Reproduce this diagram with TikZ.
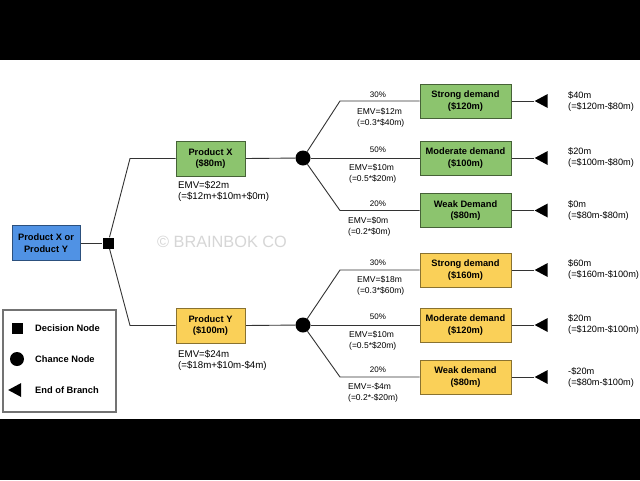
\documentclass[tikz,border=0pt]{standalone}
\usepackage{fontspec}
\setmainfont{Liberation Sans}
\usetikzlibrary{shapes.geometric}
\definecolor{rootblue}{RGB}{80,146,228}
\definecolor{xgreen}{RGB}{140,196,110}
\definecolor{yyellow}{RGB}{250,208,88}
\pgfdeclarelayer{bg}
\pgfdeclarelayer{lines}
\pgfsetlayers{bg,lines,main}
\begin{document}
\begin{tikzpicture}[x=1pt,y=-1pt,
  boxbase/.style={line width=0.9pt, inner sep=1pt, align=center,
    font=\fontsize{9.3}{11.5}\selectfont\bfseries},
  rootbox/.style={boxbase, draw=rootblue!55!black, fill=rootblue, minimum width=68pt, minimum height=35pt},
  pxbox/.style={boxbase, draw=xgreen!50!black, fill=xgreen, minimum width=69pt, minimum height=35pt},
  pybox/.style={boxbase, draw=yyellow!55!black, fill=yyellow, minimum width=69pt, minimum height=35pt},
  dxbox/.style={boxbase, draw=xgreen!50!black, fill=xgreen, minimum width=91pt, minimum height=34pt},
  dybox/.style={boxbase, draw=yyellow!55!black, fill=yyellow, minimum width=91pt, minimum height=34pt},
  decnode/.style={rectangle, fill=black, minimum size=11pt, inner sep=0pt},
  chancenode/.style={circle, fill=black, minimum size=15pt, inner sep=0pt},
  endnode/.style={isosceles triangle, isosceles triangle stretches, shape border rotate=180,
    fill=black, minimum width=14pt, minimum height=13pt, inner sep=0pt},
  conn/.style={draw=black!80, line width=0.9pt},
  ann/.style={anchor=west, align=left, inner sep=0pt, font=\fontsize{8.5}{11}\selectfont},
  pann/.style={anchor=west, align=left, inner sep=0pt, font=\fontsize{9.7}{11.5}\selectfont},
  vann/.style={anchor=west, align=left, inner sep=0pt, font=\fontsize{9.2}{11}\selectfont},
  pct/.style={inner sep=0pt, font=\fontsize{8}{10}\selectfont},
  legtext/.style={anchor=west, inner sep=0pt, font=\fontsize{9.3}{11}\selectfont\bfseries}
]
\useasboundingbox (0,0) rectangle (640,480);
\begin{pgfonlayer}{bg}
  \fill[black] (0,0) rectangle (640,480);
  \fill[white] (0,60) rectangle (640,419);
\end{pgfonlayer}

% watermark
\node[text=black!16, font=\fontsize{16.3}{18}\selectfont] (wm) at (222,242) {\textcopyright\ BRAINBOK CO};

% root and decision
\node[rootbox] (root) at (46,243) {Product X or\\Product Y};
\node[decnode] (dec) at (108,243) {};

% products
\node[pxbox] (px) at (210.5,158.5) {Product X\\(\$80m)};
\node[pybox] (py) at (210.5,325.5) {Product Y\\(\$100m)};
\node[pann] (pxemv) at (178,191.5) {EMV=\$22m\\(=\$12m+\$10m+\$0m)};
\node[pann] (pyemv) at (178,360.5) {EMV=\$24m\\(=\$18m+\$10m-\$4m)};

% chance nodes
\node[chancenode] (c1) at (303,158) {};
\node[chancenode] (c2) at (303,325) {};

% outcome boxes
\node[dxbox] (s1) at (465.5,101) {Strong demand\\(\$120m)};
\node[dxbox] (m1) at (465.5,158) {Moderate demand\\(\$100m)};
\node[dxbox] (w1) at (465.5,210.5) {Weak Demand\\(\$80m)};
\node[dybox] (s2) at (465.5,270) {Strong demand\\(\$160m)};
\node[dybox] (m2) at (465.5,325) {Moderate demand\\(\$120m)};
\node[dybox] (w2) at (465.5,377) {Weak demand\\(\$80m)};

% probabilities
\node[pct] (p1) at (378,95) {30\%};
\node[pct] (p2) at (378,150) {50\%};
\node[pct] (p3) at (378,203.5) {20\%};
\node[pct] (p4) at (378,263) {30\%};
\node[pct] (p5) at (378,317) {50\%};
\node[pct] (p6) at (378,370) {20\%};

% EMVs of outcomes
\node[ann] (e1) at (357,118) {EMV=\$12m\\(=0.3*\$40m)};
\node[ann] (e2) at (349,174) {EMV=\$10m\\(=0.5*\$20m)};
\node[ann] (e3) at (348,226.5) {EMV=\$0m\\(=0.2*\$0m)};
\node[ann] (e4) at (357,286) {EMV=\$18m\\(=0.3*\$60m)};
\node[ann] (e5) at (349,341) {EMV=\$10m\\(=0.5*\$20m)};
\node[ann] (e6) at (348,393) {EMV=-\$4m\\(=0.2*-\$20m)};

% end nodes
\node[endnode] (t1) at (543.5,101) {};
\node[endnode] (t2) at (543.5,158) {};
\node[endnode] (t3) at (543.5,210.5) {};
\node[endnode] (t4) at (543.5,270) {};
\node[endnode] (t5) at (543.5,325) {};
\node[endnode] (t6) at (543.5,377) {};

% payoffs
\node[vann] (v1) at (568,101.5) {\$40m\\(=\$120m-\$80m)};
\node[vann] (v2) at (568,158) {\$20m\\(=\$100m-\$80m)};
\node[vann] (v3) at (568,211) {\$0m\\(=\$80m-\$80m)};
\node[vann] (v4) at (568,270) {\$60m\\(=\$160m-\$100m)};
\node[vann] (v5) at (568,325) {\$20m\\(=\$120m-\$100m)};
\node[vann] (v6) at (568,377.5) {-\$20m\\(=\$80m-\$100m)};

% connectors
\begin{pgfonlayer}{lines}
  \draw[conn] (root.east) -- (dec);
  \draw[conn] (dec) -- (130,158.5) -- (px.west);
  \draw[conn] (dec) -- (130,325.5) -- (py.west);
  \draw[conn] (px.east) -- (c1);
  \draw[conn] (py.east) -- (c2);
  \draw[conn] (c1) -- (340,101) -- (s1.west);
  \draw[conn] (c1) -- (m1.west);
  \draw[conn] (c1) -- (340,210.5) -- (w1.west);
  \draw[conn] (c2) -- (340,270) -- (s2.west);
  \draw[conn] (c2) -- (m2.west);
  \draw[conn] (c2) -- (340,377) -- (w2.west);
  \draw[conn] (s1.east) -- (t1.apex);
  \draw[conn] (m1.east) -- (t2.apex);
  \draw[conn] (w1.east) -- (t3.apex);
  \draw[conn] (s2.east) -- (t4.apex);
  \draw[conn] (m2.east) -- (t5.apex);
  \draw[conn] (w2.east) -- (t6.apex);
\end{pgfonlayer}

% legend
\node[draw=black!55, line width=1.2pt, minimum width=113pt, minimum height=102pt, inner sep=0pt] (legend) at (59.5,361) {};
\node[decnode] (ld) at (17,328) {};
\node[legtext] (ldt) at (35,328) {Decision Node};
\node[chancenode, minimum size=14pt] (lc) at (17,359) {};
\node[legtext] (lct) at (35,359) {Chance Node};
\node[endnode] (le) at (17,390) {};
\node[legtext] (let) at (35,390) {End of Branch};
\end{tikzpicture}
\end{document}
